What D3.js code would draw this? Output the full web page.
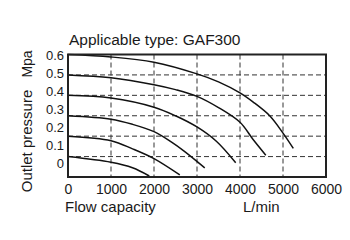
<!DOCTYPE html>
<html>
<head>
<meta charset="utf-8">
<script src="https://cdn.jsdelivr.net/npm/d3@7"></script>
<style>
  body { margin: 0; background: #fff; }
  text { font-family: "Liberation Sans", Arial, sans-serif; fill: #1a1a1a; }
</style>
</head>
<body>
<svg id="chart"></svg>
<script>
// chart values
var titleText = "Applicable type: GAF300";
var xTicks = [0, 1000, 2000, 3000, 4000, 5000, 6000];
var yTicks = [0, 0.1, 0.2, 0.3, 0.4, 0.5, 0.6];
var xGrid = [1000, 2000, 3000, 4000, 5000];
var yGrid = [0.1, 0.2, 0.3, 0.4, 0.5];

// outlet pressure (MPa) against flow (L/min), one array per set pressure
var curve06 = [[0, 0.6], [1000, 0.588], [2000, 0.562], [3000, 0.505], [3500, 0.466], [4000, 0.412], [4300, 0.368], [4690, 0.3], [5000, 0.215], [5240, 0.14]];
var curve05 = [[0, 0.5], [1000, 0.486], [2000, 0.452], [2500, 0.428], [3000, 0.395], [3500, 0.34], [4000, 0.268], [4300, 0.185], [4600, 0.107]];
var curve04 = [[0, 0.4], [1000, 0.387], [2000, 0.342], [2500, 0.3], [3000, 0.245], [3450, 0.175], [3900, 0.07]];
var curve03 = [[0, 0.3], [1000, 0.283], [1500, 0.258], [2000, 0.222], [2400, 0.172], [2700, 0.127], [3180, 0.045]];
var curve02 = [[0, 0.2], [1000, 0.178], [1500, 0.138], [2000, 0.09], [2600, 0.01]];
var curve01 = [[0, 0.1], [1000, 0.072], [1500, 0.045], [1890, 0.005]];
var curves = [curve06, curve05, curve04, curve03, curve02, curve01];

// sizes
var fullWidth = 350;
var fullHeight = 240;
var plot = {left: 68, right: 326, top: 54.5, bottom: 177};

var svg = d3.select("#chart")
  .attr("width", fullWidth)
  .attr("height", fullHeight);

var xScale = d3.scaleLinear()
  .domain([0, 6000])
  .range([plot.left, plot.right]);

var yScale = d3.scaleLinear()
  .domain([0, 0.6])
  .range([plot.bottom, plot.top]);

// the printed labels sit a bit tighter than the grid
var yLabelScale = d3.scaleLinear()
  .domain([0, 0.6])
  .range([163.5, 55]);

// dashed grid
svg.append("g")
  .selectAll("line")
  .data(xGrid)
  .enter().append("line")
  .attr("x1", function(d) { return xScale(d); })
  .attr("x2", function(d) { return xScale(d); })
  .attr("y1", plot.top)
  .attr("y2", plot.bottom)
  .attr("stroke", "#333")
  .attr("stroke-width", 1)
  .attr("stroke-dasharray", "5,3");

svg.append("g")
  .selectAll("line")
  .data(yGrid)
  .enter().append("line")
  .attr("x1", plot.left)
  .attr("x2", plot.right)
  .attr("y1", function(d) { return yScale(d); })
  .attr("y2", function(d) { return yScale(d); })
  .attr("stroke", "#333")
  .attr("stroke-width", 1)
  .attr("stroke-dasharray", "5,3");

// curves
var line = d3.line()
  .x(function(d) { return xScale(d[0]); })
  .y(function(d) { return yScale(d[1]); })
  .curve(d3.curveCatmullRom.alpha(0.5));

svg.append("g")
  .selectAll("path")
  .data(curves)
  .enter().append("path")
  .attr("d", line)
  .attr("fill", "none")
  .attr("stroke", "#111")
  .attr("stroke-width", 1.5);

// frame
svg.append("rect")
  .attr("x", plot.left)
  .attr("y", plot.top)
  .attr("width", plot.right - plot.left)
  .attr("height", plot.bottom - plot.top)
  .attr("fill", "none")
  .attr("stroke", "#222")
  .attr("stroke-width", 2);

// axes (labels only, the frame does the lines)
var xAxis = d3.axisBottom(xScale)
  .tickValues(xTicks)
  .tickSize(0)
  .tickPadding(0)
  .tickFormat(d3.format("d"));

var xAxisSvg = svg.append("g")
  .attr("transform", "translate(0," + 184 + ")")
  .call(xAxis);
xAxisSvg.select(".domain").remove();
xAxisSvg.selectAll("text")
  .attr("dy", "0.71em")
  .style("font-size", "14px")
  .style("font-family", "\"Liberation Sans\", Arial, sans-serif")
  .attr("fill", "#1a1a1a");

var yAxis = d3.axisLeft(yLabelScale)
  .tickValues(yTicks)
  .tickSize(0)
  .tickPadding(0)
  .tickFormat(function(d) { return d === 0 ? "0" : d3.format(".1f")(d); });

var yAxisSvg = svg.append("g")
  .attr("transform", "translate(" + 64 + ",0)")
  .call(yAxis);
yAxisSvg.select(".domain").remove();
yAxisSvg.selectAll("text")
  .style("font-size", "13px")
  .style("font-family", "\"Liberation Sans\", Arial, sans-serif")
  .attr("fill", "#1a1a1a");

// titles
svg.append("text")
  .attr("x", 69)
  .attr("y", 45)
  .style("font-size", "15.5px")
  .text(titleText);

svg.append("text")
  .attr("x", 65)
  .attr("y", 211.5)
  .style("font-size", "15px")
  .text("Flow capacity");

svg.append("text")
  .attr("x", 243)
  .attr("y", 211.5)
  .style("font-size", "15px")
  .text("L/min");

svg.append("text")
  .attr("transform", "translate(32," + 141 + ") rotate(-90)")
  .attr("text-anchor", "middle")
  .style("font-size", "15px")
  .text("Outlet pressure");

svg.append("text")
  .attr("transform", "translate(32," + 64 + ") rotate(-90)")
  .attr("text-anchor", "middle")
  .style("font-size", "14px")
  .text("Mpa");
</script>
</body>
</html>
